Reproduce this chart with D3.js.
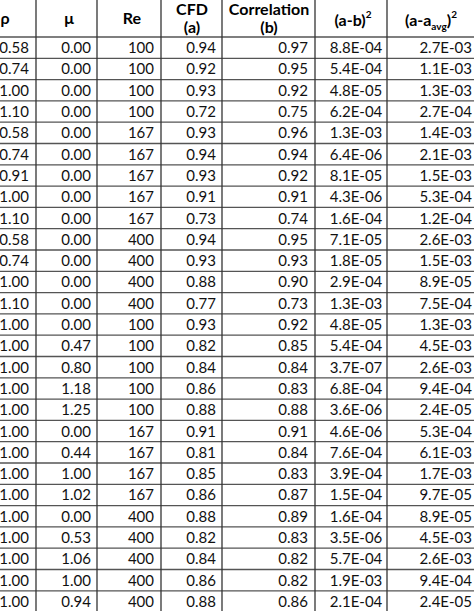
<!DOCTYPE html>
<html><head><meta charset="utf-8">
<script src="https://cdn.jsdelivr.net/npm/d3@7"></script>
<style>body{margin:0;background:#fff}</style>
</head><body><div id="tbl"></div>
<script>
// table values
const rho = [0.58,0.74,1.00,1.10,0.58,0.74,0.91,1.00,1.10,0.58,0.74,1.00,1.10,
  1.00,1.00,1.00,1.00,1.00,1.00,1.00,1.00,1.00,1.00,1.00,1.00,1.00,1.00];
const mu = [0,0,0,0,0,0,0,0,0,0,0,0,0,
  0.00,0.47,0.80,1.18,1.25,0.00,0.44,1.00,1.02,0.00,0.53,1.06,1.00,0.94];
const re = [100,100,100,100,167,167,167,167,167,400,400,400,400,
  100,100,100,100,100,167,167,167,167,400,400,400,400,400];
const cfd = [0.94,0.92,0.93,0.72,0.93,0.94,0.93,0.91,0.73,0.94,0.93,0.88,0.77,
  0.93,0.82,0.84,0.86,0.88,0.91,0.81,0.85,0.86,0.88,0.82,0.84,0.86,0.88];
const corr = [0.97,0.95,0.92,0.75,0.96,0.94,0.92,0.91,0.74,0.95,0.93,0.90,0.73,
  0.92,0.85,0.84,0.83,0.88,0.91,0.84,0.83,0.87,0.89,0.83,0.82,0.82,0.86];
const errAB = ["8.8E-04","5.4E-04","4.8E-05","6.2E-04","1.3E-03","6.4E-06","8.1E-05","4.3E-06","1.6E-04","7.1E-05","1.8E-05","2.9E-04","1.3E-03",
  "4.8E-05","5.4E-04","3.7E-07","6.8E-04","3.6E-06","4.6E-06","7.6E-04","3.9E-04","1.5E-04","1.6E-04","3.5E-06","5.7E-04","1.9E-03","2.1E-04"];
const errAvg = ["2.7E-03","1.1E-03","1.3E-03","2.7E-04","1.4E-03","2.1E-03","1.5E-03","5.3E-04","1.2E-04","2.6E-03","1.5E-03","8.9E-05","7.5E-04",
  "1.3E-03","4.5E-03","2.6E-03","9.4E-04","2.4E-05","5.3E-04","6.1E-03","1.7E-03","9.7E-05","8.9E-05","4.5E-03","2.6E-03","9.4E-04","2.4E-05"];

const W = 474, H = 611, headH = 37;
const svg = d3.select("#tbl").append("svg").attr("width", W).attr("height", H)
  .style("font-family", "Lato, 'Open Sans', sans-serif");

// column boundaries (table is cropped on left and right)
const edges = [-30, 36, 97, 161, 222, 315, 387, 490];
const y = d3.scaleLinear().domain([0, rho.length]).range([headH, headH + rho.length * 21.3]);

// horizontal lines
svg.selectAll(".hl").data(d3.range(rho.length + 1)).enter().append("line")
  .attr("x1", 0).attr("x2", W).attr("y1", d => y(d)).attr("y2", d => y(d))
  .attr("stroke", "#555").attr("stroke-width", 1.3);
// vertical lines
svg.selectAll(".vl").data(edges.slice(1, -1)).enter().append("line")
  .attr("x1", d => d).attr("x2", d => d).attr("y1", 0).attr("y2", H)
  .attr("stroke", "#333").attr("stroke-width", 1.3);

// header
const hdr = svg.append("g").attr("font-weight", "bold").attr("font-size", 16).attr("text-anchor", "middle");
hdr.append("text").attr("x", 5).attr("y", 24).text("ρ");
hdr.append("text").attr("x", 69).attr("y", 24).text("μ");
hdr.append("text").attr("x", 132).attr("y", 24).text("Re");
hdr.append("text").attr("x", 192).attr("y", 15).text("CFD");
hdr.append("text").attr("x", 192).attr("y", 33).text("(a)");
hdr.append("text").attr("x", 269).attr("y", 15).text("Correlation");
hdr.append("text").attr("x", 269).attr("y", 33).text("(b)");
const t6 = hdr.append("text").attr("x", 353).attr("y", 26);
t6.append("tspan").text("(a-b)");
t6.append("tspan").attr("font-size", 10).attr("dy", -8).text("2");
const t7 = hdr.append("text").attr("x", 431).attr("y", 26);
t7.append("tspan").text("(a-a");
t7.append("tspan").attr("font-size", 10).attr("dy", 4).text("avg");
t7.append("tspan").attr("dy", -4).text(")");
t7.append("tspan").attr("font-size", 10).attr("dy", -8).text("2");

// body cells
const cols = [
  {v: rho, f: d => d.toFixed(2), x: 29, a: "end"},
  {v: mu, f: d => d.toFixed(2), x: 91, a: "end"},
  {v: re, f: d => d, x: 154, a: "end"},
  {v: cfd, f: d => d.toFixed(2), x: 216, a: "end"},
  {v: corr, f: d => d.toFixed(2), x: 308, a: "end"},
  {v: errAB, f: d => d, x: 356, a: "middle"},
  {v: errAvg, f: d => d, x: 472, a: "end"}
];
cols.forEach(c => {
  svg.append("g").selectAll("text").data(c.v).enter().append("text")
    .attr("x", c.x).attr("y", (d, i) => (y(i) + y(i + 1)) / 2 + 5.5)
    .attr("text-anchor", c.a).attr("font-size", 15).attr("fill", "#111")
    .text(c.f);
});
</script></body></html>
